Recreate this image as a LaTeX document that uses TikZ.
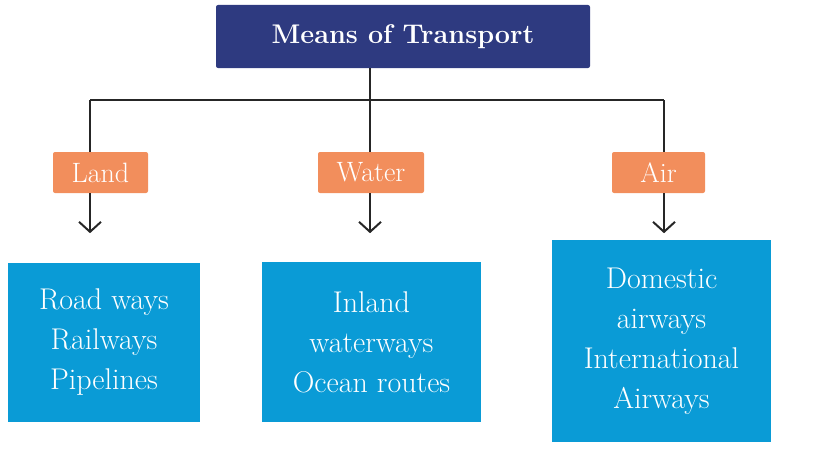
\documentclass[tikz,border=0pt]{standalone}
\usetikzlibrary{arrows.meta}
\definecolor{navy}{HTML}{2E3A80}
\definecolor{orng}{HTML}{F28E5C}
\definecolor{sky}{HTML}{0A9BD6}
\begin{document}
\begin{tikzpicture}[x=1pt,y=-1pt,
  lbl/.style={fill=orng,text=white,font=\fontsize{28}{30}\selectfont,inner sep=0pt,minimum height=41pt,rounded corners=2pt},
  box/.style={fill=sky,text=white,font=\fontsize{30}{40}\selectfont,align=center,inner sep=0pt},
  ln/.style={line width=2pt,black!85},
  arr/.style={ln,-{Straight Barb[length=10pt,width=22pt,line width=2pt]}}]
\useasboundingbox (0,0) rectangle (824,460);
\node[fill=navy,text=white,font=\fontsize{27}{30}\selectfont\bfseries,minimum width=374pt,minimum height=63pt,inner sep=0pt,rounded corners=2pt] (t) at (403,36.5) {Means of Transport};
\node[lbl,minimum width=95pt] (l) at (100.5,172.5) {Land};
\node[lbl,minimum width=106pt] (w) at (371,172.5) {Water};
\node[lbl,minimum width=93pt] (a) at (658.5,172.5) {Air};
\coordinate (jl) at (90,100); \coordinate (jr) at (664,100);
\coordinate (jm) at (370,100);
\draw[ln] (t.south -| jm) -- (jm);
\draw[ln] (jl) -- (jr);
\draw[ln] (jl) -- (jl |- l.north);
\draw[ln] (jm) -- (jm |- w.north);
\draw[ln] (jr) -- (jr |- a.north);
\node[box,minimum width=192pt,minimum height=159pt] (b1) at (104,342.5) {Road ways\\Railways\\Pipelines};
\node[box,minimum width=219pt,minimum height=160pt] (b2) at (371.5,342) {Inland\\waterways\\Ocean routes};
\node[box,minimum width=219pt,minimum height=202pt] (b3) at (661.5,341) {Domestic\\airways\\International\\Airways};
\draw[arr] (l.south -| jl) -- ++(0,40);
\draw[arr] (w.south -| jm) -- ++(0,40);
\draw[arr] (a.south -| jr) -- ++(0,40);
\end{tikzpicture}
\end{document}
